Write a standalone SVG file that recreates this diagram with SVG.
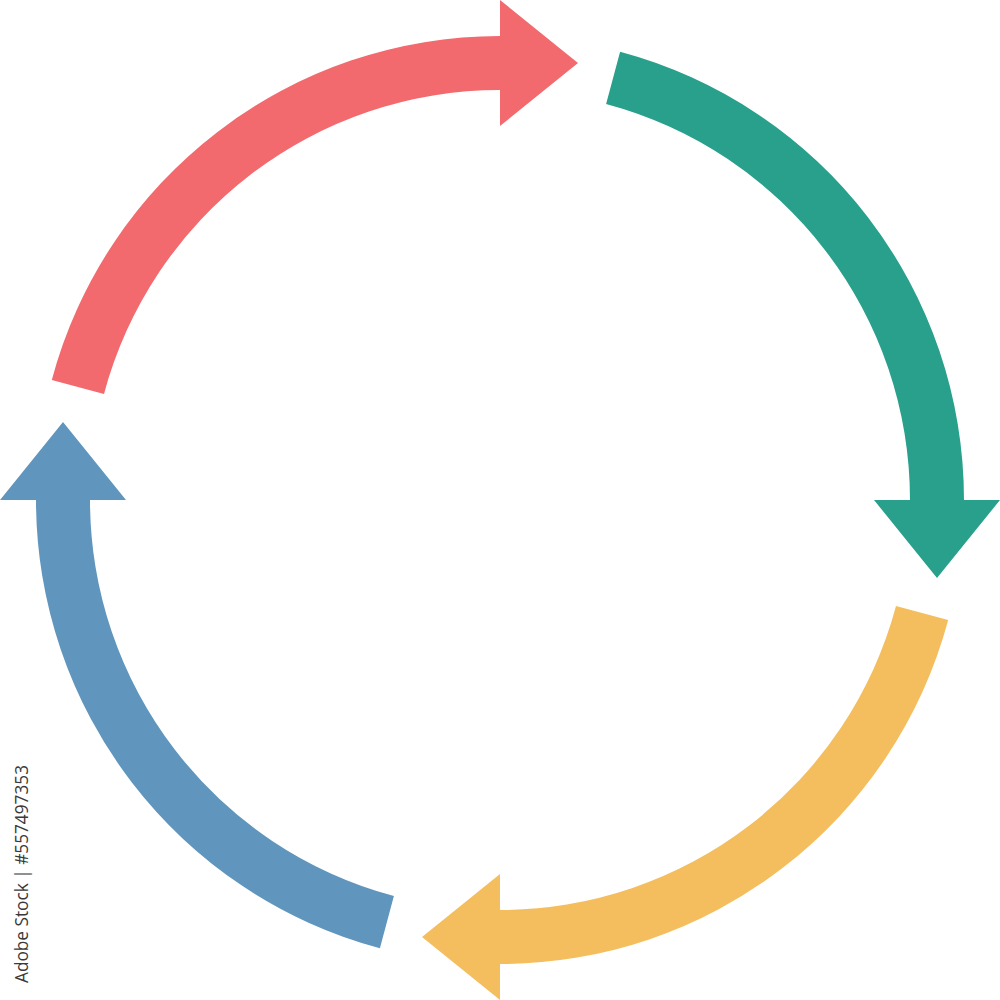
<svg xmlns="http://www.w3.org/2000/svg" width="1000" height="1000" viewBox="0 0 1000 1000">
<style>
.red{fill:#F26A6E}.green{fill:#28A08C}.yellow{fill:#F4BE5F}.blue{fill:#6096BD}
.wm{font-family:"Open Sans","DejaVu Sans",sans-serif;font-size:18px;fill:#3a3a3a}
</style>
<defs>
<path id="arrow" d="M51.8 379.9 A464 464 0 0 1 500 36 L500 0 L578 63 L500 126 L500 90 A410 410 0 0 0 104 393.9 Z"/>
</defs>
<rect width="1000" height="1000" fill="#fff"/>
<g id="arrow-red"><use href="#arrow" class="red"/></g>
<g id="arrow-green"><use href="#arrow" class="green" transform="rotate(90 500 500)"/></g>
<g id="arrow-yellow"><use href="#arrow" class="yellow" transform="rotate(180 500 500)"/></g>
<g id="arrow-blue"><use href="#arrow" class="blue" transform="rotate(270 500 500)"/></g>
<g id="connectors"></g>
<text class="wm" transform="translate(28 983) rotate(-90)" textLength="218" lengthAdjust="spacingAndGlyphs">Adobe Stock | #557497353</text>
</svg>
